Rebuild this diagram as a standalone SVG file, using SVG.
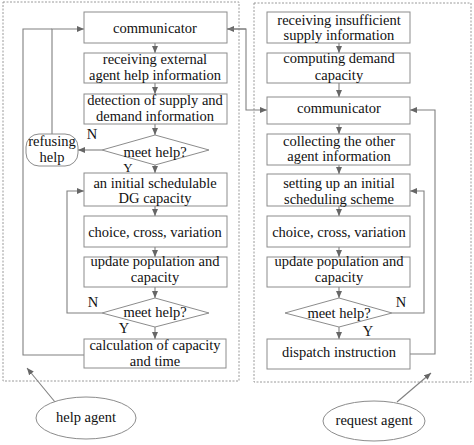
<svg xmlns="http://www.w3.org/2000/svg" width="474" height="445" viewBox="0 0 474 445">
<defs>
<marker id="ah" markerWidth="7" markerHeight="6" refX="7" refY="3" orient="auto" markerUnits="userSpaceOnUse">
<path d="M0,0 L7,3 L0,6 Z" fill="#666"/>
</marker>
</defs>
<style>
.box{fill:#fff;stroke:#8c8c8c;stroke-width:1}
.cont{fill:none;stroke:#9a9a9a;stroke-width:1;stroke-dasharray:2,1.5}
.ln{fill:none;stroke:#808080;stroke-width:1.1}
.ar{fill:none;stroke:#808080;stroke-width:1.1;marker-end:url(#ah)}
</style>
<rect width="474" height="445" fill="#fff"/>
<rect class="cont" x="3" y="2" width="236" height="379"/>
<rect class="cont" x="254" y="3" width="217" height="379"/>

<g id="connectors">
<path class="ar" d="M155,43 V53"/>
<path class="ar" d="M155,83 V94"/>
<path class="ar" d="M155,124 V135"/>
<path class="ar" d="M102,150 H78"/>
<path class="ar" d="M155,165 V173"/>
<path class="ar" d="M155,206 V216"/>
<path class="ar" d="M155,247 V257"/>
<path class="ar" d="M155,287 V298"/>
<path class="ar" d="M155,327 V339"/>
<path class="ar" d="M52,134 V29 H84"/>
<path class="ln" d="M84,355 H23 V29 H52"/>
<path class="ar" d="M102,313 H67 V191 H84"/>
<path class="ar" d="M246,29 H227"/>
<path class="ar" d="M227,29 H246 V110 H267"/>
<path class="ar" d="M339,43 V53"/>
<path class="ar" d="M339,83 V97"/>
<path class="ar" d="M339,124 V134"/>
<path class="ar" d="M339,165 V174"/>
<path class="ar" d="M339,206 V216"/>
<path class="ar" d="M339,247 V257"/>
<path class="ar" d="M339,287 V298"/>
<path class="ar" d="M339,327 V339"/>
<path class="ar" d="M392,313 H424 V191 H410"/>
<path class="ar" d="M410,354 H435 V110 H410"/>
<path class="ar" d="M55,402 L27,368"/>
<path class="ar" d="M397,402 L431,373"/>
</g>

<g font-family="Liberation Serif, Times New Roman, serif" font-size="14.5" fill="#111" text-anchor="middle">
<g id="l_comm"><rect class="box" x="84" y="12" width="143" height="31"/><text x="155" y="33">communicator</text></g>
<g id="l_recv"><rect class="box" x="84" y="53" width="143" height="30"/><text x="155" y="64">receiving external</text><text x="155" y="80">agent help information</text></g>
<g id="l_detect"><rect class="box" x="84" y="94" width="143" height="30"/><text x="155" y="105">detection of supply and</text><text x="155" y="121">demand information</text></g>
<g id="l_dec1"><polygon class="box" points="155,135 209,150 155,165 102,150"/><text x="155" y="156.5">meet help?</text></g>
<g id="l_refuse"><rect class="box" x="26" y="134" width="52" height="32" rx="13"/><text x="52" y="146">refusing</text><text x="52" y="162">help</text></g>
<g id="l_init"><rect class="box" x="84" y="173" width="143" height="33"/><text x="155" y="188">an initial schedulable</text><text x="155" y="203">DG capacity</text></g>
<g id="l_choice"><rect class="box" x="84" y="216" width="143" height="31"/><text x="155" y="237">choice, cross, variation</text></g>
<g id="l_update"><rect class="box" x="84" y="257" width="143" height="30"/><text x="155" y="266">update population and</text><text x="155" y="282">capacity</text></g>
<g id="l_dec2"><polygon class="box" points="155,298 209,313 155,327 102,313"/><text x="155" y="317">meet help?</text></g>
<g id="l_calc"><rect class="box" x="84" y="339" width="142" height="29"/><text x="155" y="350">calculation of capacity</text><text x="155" y="366">and  time</text></g>
<g id="help_agent"><ellipse class="box" cx="86" cy="418" rx="50" ry="21"/><text x="86" y="422">help agent</text></g>

<g id="r_recv"><rect class="box" x="267" y="12" width="143" height="31"/><text x="339" y="25">receiving insufficient</text><text x="339" y="40">supply information</text></g>
<g id="r_compute"><rect class="box" x="267" y="53" width="143" height="30"/><text x="339" y="63">computing demand</text><text x="339" y="80">capacity</text></g>
<g id="r_comm"><rect class="box" x="267" y="97" width="143" height="27"/><text x="339" y="113">communicator</text></g>
<g id="r_collect"><rect class="box" x="267" y="134" width="143" height="31"/><text x="339" y="146">collecting the other</text><text x="339" y="161">agent information</text></g>
<g id="r_setup"><rect class="box" x="267" y="174" width="143" height="32"/><text x="339" y="188">setting up an initial</text><text x="339" y="204">scheduling scheme</text></g>
<g id="r_choice"><rect class="box" x="267" y="216" width="143" height="31"/><text x="339" y="237">choice, cross, variation</text></g>
<g id="r_update"><rect class="box" x="267" y="257" width="143" height="30"/><text x="339" y="266">update population and</text><text x="339" y="282">capacity</text></g>
<g id="r_dec"><polygon class="box" points="339,298 392,313 339,327 285,313"/><text x="339" y="318">meet help?</text></g>
<g id="r_dispatch"><rect class="box" x="267" y="339" width="143" height="30"/><text x="339" y="357">dispatch instruction</text></g>
<g id="request_agent"><ellipse class="box" cx="374" cy="421" rx="51" ry="20"/><text x="374" y="425">request agent</text></g>

<g id="labels">
<text x="92" y="139">N</text>
<text x="128" y="172" font-size="13">Y</text>
<text x="93" y="307">N</text>
<text x="124" y="333">Y</text>
<text x="401" y="307">N</text>
<text x="368" y="336">Y</text>
</g>
</g>
</svg>
